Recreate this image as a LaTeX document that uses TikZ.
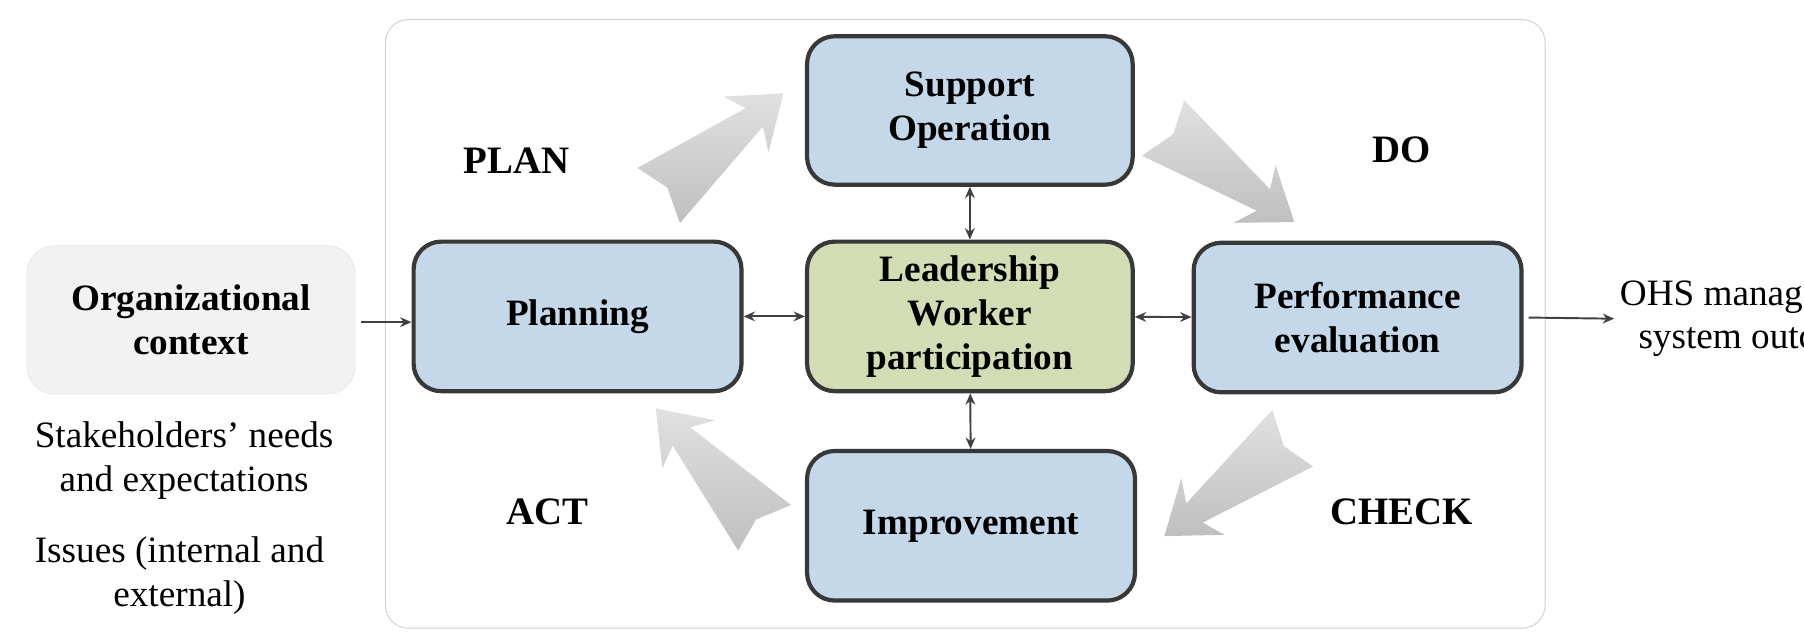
\documentclass[tikz,border=0pt]{standalone}
\usepackage{fontspec}
\setmainfont{Liberation Serif}
\usetikzlibrary{arrows.meta}
\begin{document}
\begin{tikzpicture}[x=0.025cm,y=-0.025cm,
  box/.style={draw=black!78,line width=2.6pt,rounded corners=0.6cm,fill=boxblue,font=\fontsize{23}{27}\selectfont\bfseries,align=center,inner sep=0pt},
  lbl/.style={font=\fontsize{24}{28}\selectfont\bfseries},
  txt/.style={font=\fontsize{23}{27}\selectfont,align=center},
  dbl/.style={{Stealth[length=7pt,width=6pt]}-{Stealth[length=7pt,width=6pt]},black!75,line width=1.2pt},
  one/.style={-{Stealth[length=7pt,width=6pt]},black!75,line width=1.2pt}]
\definecolor{boxblue}{HTML}{C5D8E9}
\definecolor{boxgreen}{HTML}{D3DDB5}
\useasboundingbox (0,0) rectangle (1568,555);
\clip (0,0) rectangle (1568,555);
\draw[black!18,rounded corners=0.5cm,line width=0.6pt] (335,17) rectangle (1343,546);
\node[draw=black!10,fill=black!5,rounded corners=0.6cm,minimum width=285*0.025cm,minimum height=129*0.025cm,font=\fontsize{23}{27}\selectfont\bfseries,align=center] (org) at (166,278) {Organizational\\context};
\node[txt] (st) at (160,400) {Stakeholders’ needs\\and expectations};
\node[txt] (is) at (156,500) {Issues (internal and\\external)};
\node[box,minimum width=285*0.025cm,minimum height=130*0.025cm] (pl) at (502,275) {Planning};
\node[box,minimum width=283*0.025cm,minimum height=129*0.025cm] (su) at (843,96) {Support\\Operation};
\node[box,fill=boxgreen,minimum width=283*0.025cm,minimum height=130*0.025cm] (le) at (843,275) {Leadership\\Worker\\participation};
\node[box,minimum width=285*0.025cm,minimum height=130*0.025cm] (pe) at (1180,276) {Performance\\evaluation};
\node[box,minimum width=285*0.025cm,minimum height=130*0.025cm] (im) at (844,457) {Improvement};
\draw[one] (org.east)+(5,2) coordinate (o1) -- (pl.west|-o1);
\draw[dbl] (pl) -- (le);
\draw[dbl] (le) -- (pe);
\draw[dbl] (su) -- (le);
\draw[dbl] (le) -- (im);
\node[txt,anchor=west] (ohs) at (1403,277) {OHS management\\\hphantom{x}system outcomes};
\coordinate (pr) at ([xshift=3pt]pe.east);
\draw[one] (pr) -- (ohs.west);
\node[lbl] (plan) at (449,140) {PLAN};
\node[lbl] (do) at (1218,130) {DO};
\node[lbl] (act) at (476,445) {ACT};
\node[lbl] (chk) at (1218,445) {CHECK};
\tikzset{bigarrow/.pic={\shade[top color=black!12,bottom color=black!25,yscale=-1]
 (0,0)--(-52,-3)--(-33,-13)--(-127,-65)--(-101,-82)--(-90,-113)--(-18,-29)--(-13,-51)--cycle;}}
\pic[rotate=0] at (681,81) {bigarrow};
\pic[rotate=-75] at (1125,193) {bigarrow};
\pic[rotate=178] at (1012,466) {bigarrow};
\pic[rotate=93] at (570,355) {bigarrow};
\end{tikzpicture}
\end{document}
